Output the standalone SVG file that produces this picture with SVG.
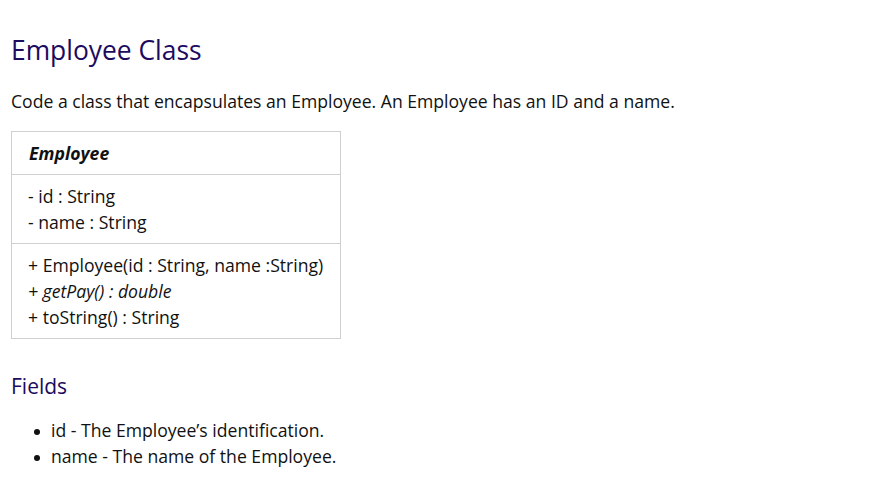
<svg xmlns="http://www.w3.org/2000/svg" width="871" height="489" viewBox="0 0 871 489">
<style>
text{font-family:"Open Sans","Noto Sans",sans-serif;fill:#111;}
.h{fill:#1c0b5e;}
.b{font-size:17.6px;}
</style>
<rect width="871" height="489" fill="#fff"/>
<text class="h" x="11" y="60" font-size="26.4">Employee Class</text>
<text class="b" x="11" y="108">Code a class that encapsulates an Employee. An Employee has an ID and a name.</text>
<g id="employee-class">
<rect x="11.5" y="131.5" width="329" height="207" fill="#fff" stroke="#d0d0d0"/>
<line x1="11.5" y1="174.5" x2="340.5" y2="174.5" stroke="#d0d0d0"/>
<line x1="11.5" y1="243.5" x2="340.5" y2="243.5" stroke="#d0d0d0"/>
<text class="b" x="29" y="160" font-weight="bold" font-style="italic">Employee</text>
<text class="b" x="28" y="203">- id : String</text>
<text class="b" x="28" y="229">- name : String</text>
<text class="b" x="28" y="272">+ Employee(id : String, name :String)</text>
<text class="b" x="28" y="298" font-style="italic">+ getPay() : double</text>
<text class="b" x="28" y="324">+ toString() : String</text>
</g>
<text class="h" x="11" y="394" font-size="21">Fields</text>
<circle cx="37" cy="432" r="3" fill="#111"/>
<text class="b" x="51" y="437">id - The Employee’s identification.</text>
<circle cx="37" cy="458" r="3" fill="#111"/>
<text class="b" x="51" y="463">name - The name of the Employee.</text>
</svg>
